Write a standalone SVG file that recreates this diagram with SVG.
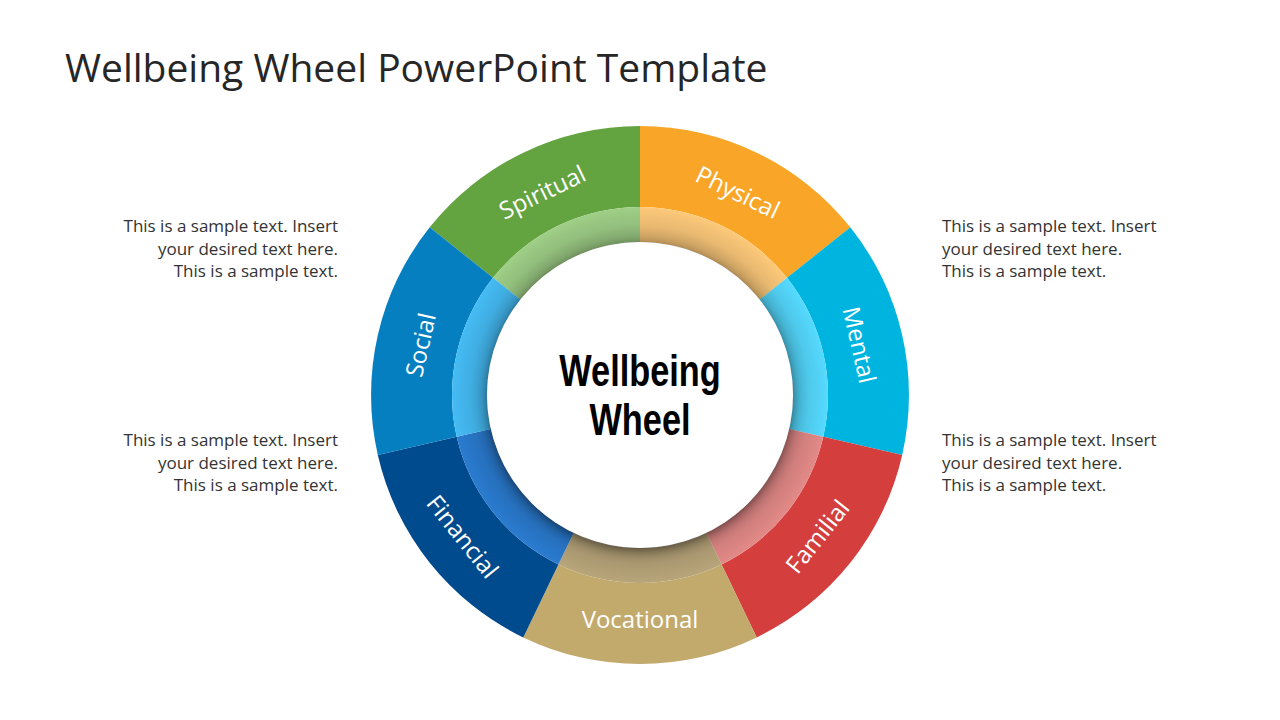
<svg xmlns="http://www.w3.org/2000/svg" width="1280" height="720" viewBox="0 0 1280 720">
<style>
.lbl{font-family:"Open Sans","Liberation Sans",sans-serif;font-size:24px;fill:#fff;text-anchor:middle;dominant-baseline:central}
.side{font-family:"Open Sans","Liberation Sans",sans-serif;font-size:17px;fill:#333}
</style>
<defs>
<radialGradient id="shade" cx="640" cy="395" r="188" gradientUnits="userSpaceOnUse">
<stop offset="0.81" stop-color="#000" stop-opacity="0.25"/>
<stop offset="0.9" stop-color="#000" stop-opacity="0.08"/>
<stop offset="1" stop-color="#000" stop-opacity="0"/>
</radialGradient>
<filter id="sh" x="-20%" y="-20%" width="140%" height="140%"><feGaussianBlur stdDeviation="4"/></filter>
</defs>
<rect width="1280" height="720" fill="#fff"/>
<text x="65" y="82" font-family="Open Sans, Liberation Sans, sans-serif" font-size="39" fill="#262626">Wellbeing Wheel PowerPoint Template</text>
<g id="spiritual">
<path d="M429.7,227.3 A269,269 0 0 1 640,126 L640,207 A188,188 0 0 0 493,277.8 Z" fill="#63A340"/>
<path d="M493,277.8 A188,188 0 0 1 640,207 L640,242 A153,153 0 0 0 520.4,299.6 Z" fill="#9FCF87"/>
<text class="lbl" transform="translate(541.9,191.4) rotate(-25.7)">Spiritual</text>
</g>
<g id="physical">
<path d="M640,126 A269,269 0 0 1 850.3,227.3 L787,277.8 A188,188 0 0 0 640,207 Z" fill="#F9A628"/>
<path d="M640,207 A188,188 0 0 1 787,277.8 L759.6,299.6 A153,153 0 0 0 640,242 Z" fill="#FDC97A"/>
<text class="lbl" transform="translate(738.1,191.4) rotate(25.7)">Physical</text>
</g>
<g id="mental">
<path d="M850.3,227.3 A269,269 0 0 1 902.2,454.9 L823.3,436.8 A188,188 0 0 0 787,277.8 Z" fill="#00B4E0"/>
<path d="M787,277.8 A188,188 0 0 1 823.3,436.8 L789.2,429 A153,153 0 0 0 759.6,299.6 Z" fill="#55DAFF"/>
<text class="lbl" transform="translate(860.3,344.7) rotate(77.1)">Mental</text>
</g>
<g id="familial">
<path d="M902.2,454.9 A269,269 0 0 1 756.7,637.4 L721.6,564.4 A188,188 0 0 0 823.3,436.8 Z" fill="#D43F3E"/>
<path d="M823.3,436.8 A188,188 0 0 1 721.6,564.4 L706.4,532.9 A153,153 0 0 0 789.2,429 Z" fill="#E38A88"/>
<text class="lbl" transform="translate(816.7,535.9) rotate(-51.4)">Familial</text>
</g>
<g id="vocational">
<path d="M756.7,637.4 A269,269 0 0 1 523.3,637.4 L558.4,564.4 A188,188 0 0 0 721.6,564.4 Z" fill="#C2AA6D"/>
<path d="M721.6,564.4 A188,188 0 0 1 558.4,564.4 L573.6,532.9 A153,153 0 0 0 706.4,532.9 Z" fill="#B8A57A"/>
<text class="lbl" transform="translate(640,618)">Vocational</text>
</g>
<g id="financial">
<path d="M523.3,637.4 A269,269 0 0 1 377.8,454.9 L456.7,436.8 A188,188 0 0 0 558.4,564.4 Z" fill="#004A8E"/>
<path d="M558.4,564.4 A188,188 0 0 1 456.7,436.8 L490.8,429 A153,153 0 0 0 573.6,532.9 Z" fill="#2A7BD0"/>
<text class="lbl" transform="translate(463.3,535.9) rotate(51.4)">Financial</text>
</g>
<g id="social">
<path d="M377.8,454.9 A269,269 0 0 1 429.7,227.3 L493,277.8 A188,188 0 0 0 456.7,436.8 Z" fill="#057FC0"/>
<path d="M456.7,436.8 A188,188 0 0 1 493,277.8 L520.4,299.6 A153,153 0 0 0 490.8,429 Z" fill="#45BCF5"/>
<text class="lbl" transform="translate(419.7,344.7) rotate(-77.1)">Social</text>
</g>
<circle cx="640" cy="395" r="188" fill="url(#shade)"/>
<g id="center">
<circle cx="640" cy="398" r="153" fill="#000" opacity="0.35" filter="url(#sh)"/>
<circle cx="640" cy="395" r="153" fill="#fff"/>
<g font-family="Liberation Sans, sans-serif" font-weight="bold" font-size="44" text-anchor="middle" fill="#000">
<text transform="translate(640,386) scale(0.78,1)">Wellbeing</text>
<text transform="translate(640,435) scale(0.78,1)">Wheel</text>
</g>
</g>
<g id="notes" class="side">
<text text-anchor="end" x="338" y="232">This is a sample text. Insert</text>
<text text-anchor="end" x="338" y="255">your desired text here.</text>
<text text-anchor="end" x="338" y="277">This is a sample text.</text>
<text text-anchor="end" x="338" y="446">This is a sample text. Insert</text>
<text text-anchor="end" x="338" y="469">your desired text here.</text>
<text text-anchor="end" x="338" y="491">This is a sample text.</text>
<text x="942" y="232">This is a sample text. Insert</text>
<text x="942" y="255">your desired text here.</text>
<text x="942" y="277">This is a sample text.</text>
<text x="942" y="446">This is a sample text. Insert</text>
<text x="942" y="469">your desired text here.</text>
<text x="942" y="491">This is a sample text.</text>
</g>
</svg>
